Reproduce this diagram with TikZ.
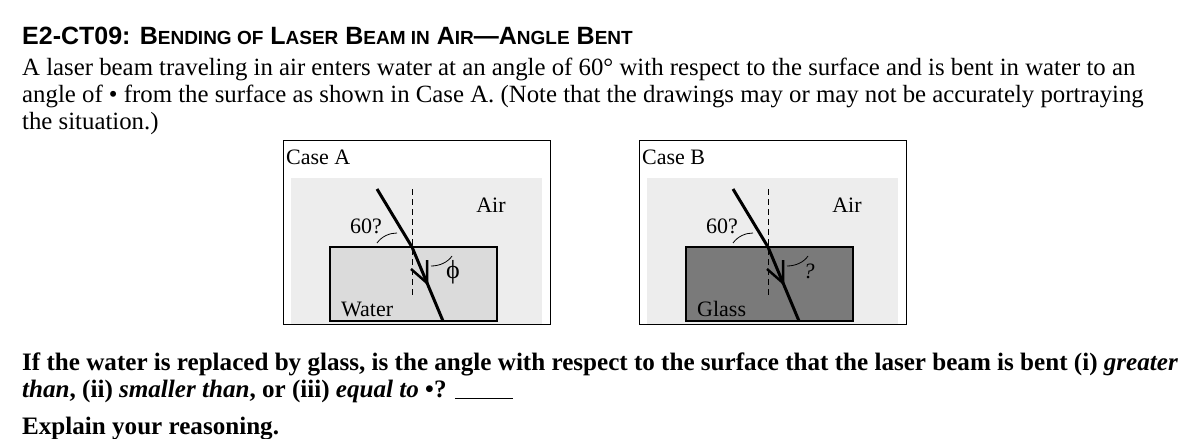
\documentclass[tikz,border=0pt]{standalone}
\usepackage{fontspec}
\setmainfont{Liberation Serif}
\newfontfamily\hfont{Liberation Sans}
\begin{document}
\begin{tikzpicture}[x=1pt,y=-1pt,
  txt/.style={anchor=base west,inner sep=0pt,font=\fontsize{24.8}{29}\selectfont},
  btxt/.style={anchor=base west,inner sep=0pt,font=\bfseries\fontsize{25.1}{29}\selectfont},
  lab/.style={anchor=base,inner sep=0pt,font=\fontsize{22}{26}\selectfont},
  beam/.style={line width=3pt},
  rectb/.style={line width=2.5pt}]
\useasboundingbox (0,0) rectangle (1202,439);
\fill[white] (0,0) rectangle (1202,439);
\node[anchor=base west,inner sep=0pt,font=\hfont\bfseries\fontsize{25}{29}\selectfont] (title) at (22,44)
 {E2-CT09: B{\fontsize{19}{22}\selectfont ENDING OF} L{\fontsize{19}{22}\selectfont ASER} B{\fontsize{19}{22}\selectfont EAM IN} A{\fontsize{19}{22}\selectfont IR}—A{\fontsize{19}{22}\selectfont NGLE} B{\fontsize{19}{22}\selectfont ENT}};
\node[txt] (l1) at (22,75) {A laser beam traveling in air enters water at an angle of 60° with respect to the surface and is bent in water to an};
\node[txt] (l2) at (22,102) {angle of \textbullet\ from the surface as shown in Case A. (Note that the drawings may or may not be accurately portraying};
\node[txt] (l3) at (22,129) {the situation.)};
\node[btxt] (q1) at (22,370) {If the water is replaced by glass, is the angle with respect to the surface that the laser beam is bent (i) \textit{greater}};
\node[btxt] (q2) at (22,397) {\textit{than}, (ii) \textit{smaller than}, or (iii) \textit{equal to} \textbullet? \underline{\hspace{58pt}}};
\node[btxt] (q3) at (22,434) {Explain your reasoning.};
\foreach \dx/\nm/\fillc/\med/\ang/\fs in {0/A/black!14/Water/ϕ/26, 356/B/black!52/Glass/\textit{?}/22}{
 \begin{scope}[xshift=\dx]
  \draw[line width=1pt] (283,140) rectangle (550,324);
  \fill[black!7] (291,178) rectangle (542,324);
  \node[anchor=base west,inner sep=0pt,font=\fontsize{22}{26}\selectfont] (case\nm) at (286,164) {Case \nm};
  \draw[rectb,fill=\fillc] (330,247) rectangle (497,321);
  \draw[dash pattern=on 6pt off 4pt,line width=0.9pt] (412,189) -- (412,295);
  \coordinate (s\nm) at (377,189);
  \coordinate (m\nm) at (412,247);
  \coordinate (e\nm) at (443,321);
  \draw[beam] (s\nm) -- (m\nm) -- (e\nm);
  \draw[line width=2.5pt] (411,269) -- (427,283) -- (427,260);
  \draw[line width=0.8pt] (377,243) .. controls (382,236) and (390,233) .. (397,233);
  \draw[line width=0.8pt] (431,266) .. controls (440,266) and (448,262) .. (452,256);
  \node[lab,font=\fontsize{\fs}{28}\selectfont] (phi\nm) at (453,278) {\ang};
  \node[lab] (sixty\nm) at (366,233) {60?};
  \node[lab] (air\nm) at (491,212) {Air};
  \node[lab,anchor=base west] (med\nm) at (341,316) {\med};
 \end{scope}}
\end{tikzpicture}
\end{document}
